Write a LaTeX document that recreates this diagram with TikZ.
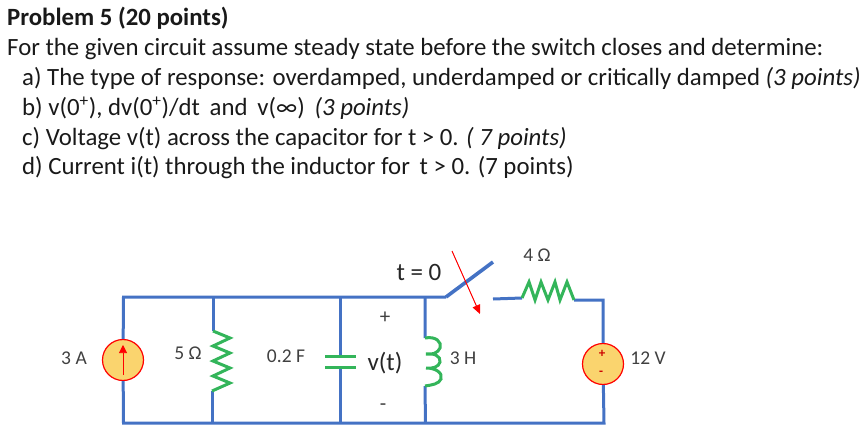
\documentclass[tikz,border=0pt]{standalone}
\usepackage{fontspec}
\setmainfont{Carlito}
\usetikzlibrary{arrows.meta}
\definecolor{wireblue}{RGB}{68,114,196}
\definecolor{compgreen}{RGB}{51,181,90}
\definecolor{srcfill}{RGB}{250,212,110}
\definecolor{txtgray}{RGB}{64,64,64}
\begin{document}
\begin{tikzpicture}[x=1pt, y=-1pt,
    wire/.style={draw=wireblue, line width=3pt},
    comp/.style={draw=compgreen, line width=3pt},
    source/.style={circle, draw=red, line width=1.2pt, fill=srcfill, minimum size=41pt, inner sep=0pt},
    big/.style={inner sep=0pt, anchor=base west, font=\fontsize{24.8}{25}\selectfont, text=black!90},
    val/.style={inner sep=0pt, font=\fontsize{19.5}{20}\selectfont, text=txtgray},
    mid/.style={inner sep=0pt, font=\fontsize{25}{26}\selectfont, text=black!85}]
    \useasboundingbox (0,0) rectangle (863,444);

    % problem text
    \node[big, font=\fontsize{24.8}{25}\selectfont\bfseries] (title) at (7,26) {Problem 5 (20 points)};
    \node[big] (intro) at (7,56) {For the given circuit assume steady state before the switch closes and determine:};
    \node[big] (qa) at (22,86) {a) The type of response: overdamped, underdamped or critically damped \textit{(3 points)}};
    \node[big] (qb) at (22,116) {b) v(0\textsuperscript{+}), dv(0\textsuperscript{+})/dt\, and\, v(∞)\, \textit{(3 points)}};
    \node[big] (qc) at (22,146) {c) Voltage v(t) across the capacitor for t > 0. \textit{( 7 points)}};
    \node[big] (qd) at (22,175) {d) Current i(t) through the inductor for\, t > 0. (7 points)};

    % wire corners
    \coordinate (tl) at (123.5,297);
    \coordinate (bl) at (123.5,423);
    \coordinate (rtop) at (213,297);
    \coordinate (rbot) at (212,423);
    \coordinate (ctop) at (340,297);
    \coordinate (cbot) at (340,423);
    \coordinate (ltop) at (425,297);
    \coordinate (lbot) at (425.5,423);
    \coordinate (swa) at (446,297);
    \coordinate (swb) at (493,262);
    \coordinate (swc) at (493,299);
    \coordinate (tr) at (603,300);
    \coordinate (br) at (604,423);

    % sources
    \node[source] (isrc) at (123,360) {};
    \node[source] (vsrc) at (603,364) {};
    \coordinate (iarrb) at (123,375);
    \coordinate (iarrt) at (123,345);
    \draw[red, line width=0.6pt, -{Triangle[length=8pt,width=8pt]}] (iarrb) -- (iarrt);
    \node[inner sep=0pt, text=red!80!black, font=\fontsize{13}{13}\selectfont\bfseries] (vplus) at (602,354) {+};
    \node[inner sep=0pt, text=red!80!black, font=\fontsize{13}{13}\selectfont\bfseries] (vminus) at (601,373) {-};

    % wires
    \draw[wire] (isrc) -- (tl) -- (rtop) -- (ctop) -- (ltop) -- (swa);
    \draw[wire] (isrc) -- (bl) -- (rbot) -- (cbot) -- (lbot) -- (br) -- (vsrc);
    \coordinate (r1a) at (213,331);
    \coordinate (r1b) at (212,391);
    \coordinate (c1) at (340,356);
    \coordinate (c2) at (340,367);
    \coordinate (l1a) at (425,338);
    \coordinate (l1b) at (425,386);
    \coordinate (r2a) at (522,298);
    \coordinate (r2b) at (574,300);
    \draw[wire] (rtop) -- (r1a) (r1b) -- (rbot);
    \draw[wire] (ctop) -- (c1) (c2) -- (cbot);
    \draw[wire] (ltop) -- (l1a) (l1b) -- (lbot);
    \draw[wire] (swc) -- (r2a) (r2b) -- (tr) -- (vsrc);
    \draw[wire, line width=3.6pt] (swa) -- (swb);

    % resistor 5 ohm
    \draw[comp] (r1a) -- (230,338) -- (213,346) -- (230,353) -- (213,361) -- (230,368) -- (213,376) -- (230,383) -- (r1b);

    % capacitor
    \draw[comp] (325,356) -- (356,356);
    \draw[comp] (325,367) -- (356,367);

    % inductor
    \draw[comp] (l1a) .. controls (436,336) and (442,342) .. (440,348) .. controls (438,353) and (432,355) .. (426,354)
        (426,354) .. controls (434,353) and (441,356) .. (440,362) .. controls (439,367) and (432,369) .. (426,368)
        (426,368) .. controls (436,368) and (443,373) .. (441,379) .. controls (439,384) and (432,385) .. (l1b);

    % resistor 4 ohm
    \draw[comp] (r2a) -- (529,282) -- (535,300) -- (541,282) -- (548,300) -- (555,282) -- (560,300) -- (567,282) -- (r2b);

    % switch arrow
    \coordinate (sa) at (452,251);
    \coordinate (sb) at (480,314);
    \draw[red, line width=1pt, -{Triangle[length=9pt,width=8pt]}] (sa) -- (sb);

    % labels
    \node[val] (l3a) at (74,358) {3 A};
    \node[val] (l5o) at (188,353) {5 Ω};
    \node[val] (l02) at (286,356) {0.2 F};
    \node[val] (l3h) at (463,358) {3 H};
    \node[val] (l4o) at (537,255) {4 Ω};
    \node[val] (l12) at (648,358) {12 V};
    \node[mid] (lt) at (419,272) {t = 0};
    \node[mid] (lv) at (385,363) {v(t)};
    \node[val, font=\fontsize{21}{21}\selectfont] (lp) at (385,318) {+};
    \node[val, font=\fontsize{21}{21}\selectfont] (lm) at (383,407) {-};
\end{tikzpicture}
\end{document}
